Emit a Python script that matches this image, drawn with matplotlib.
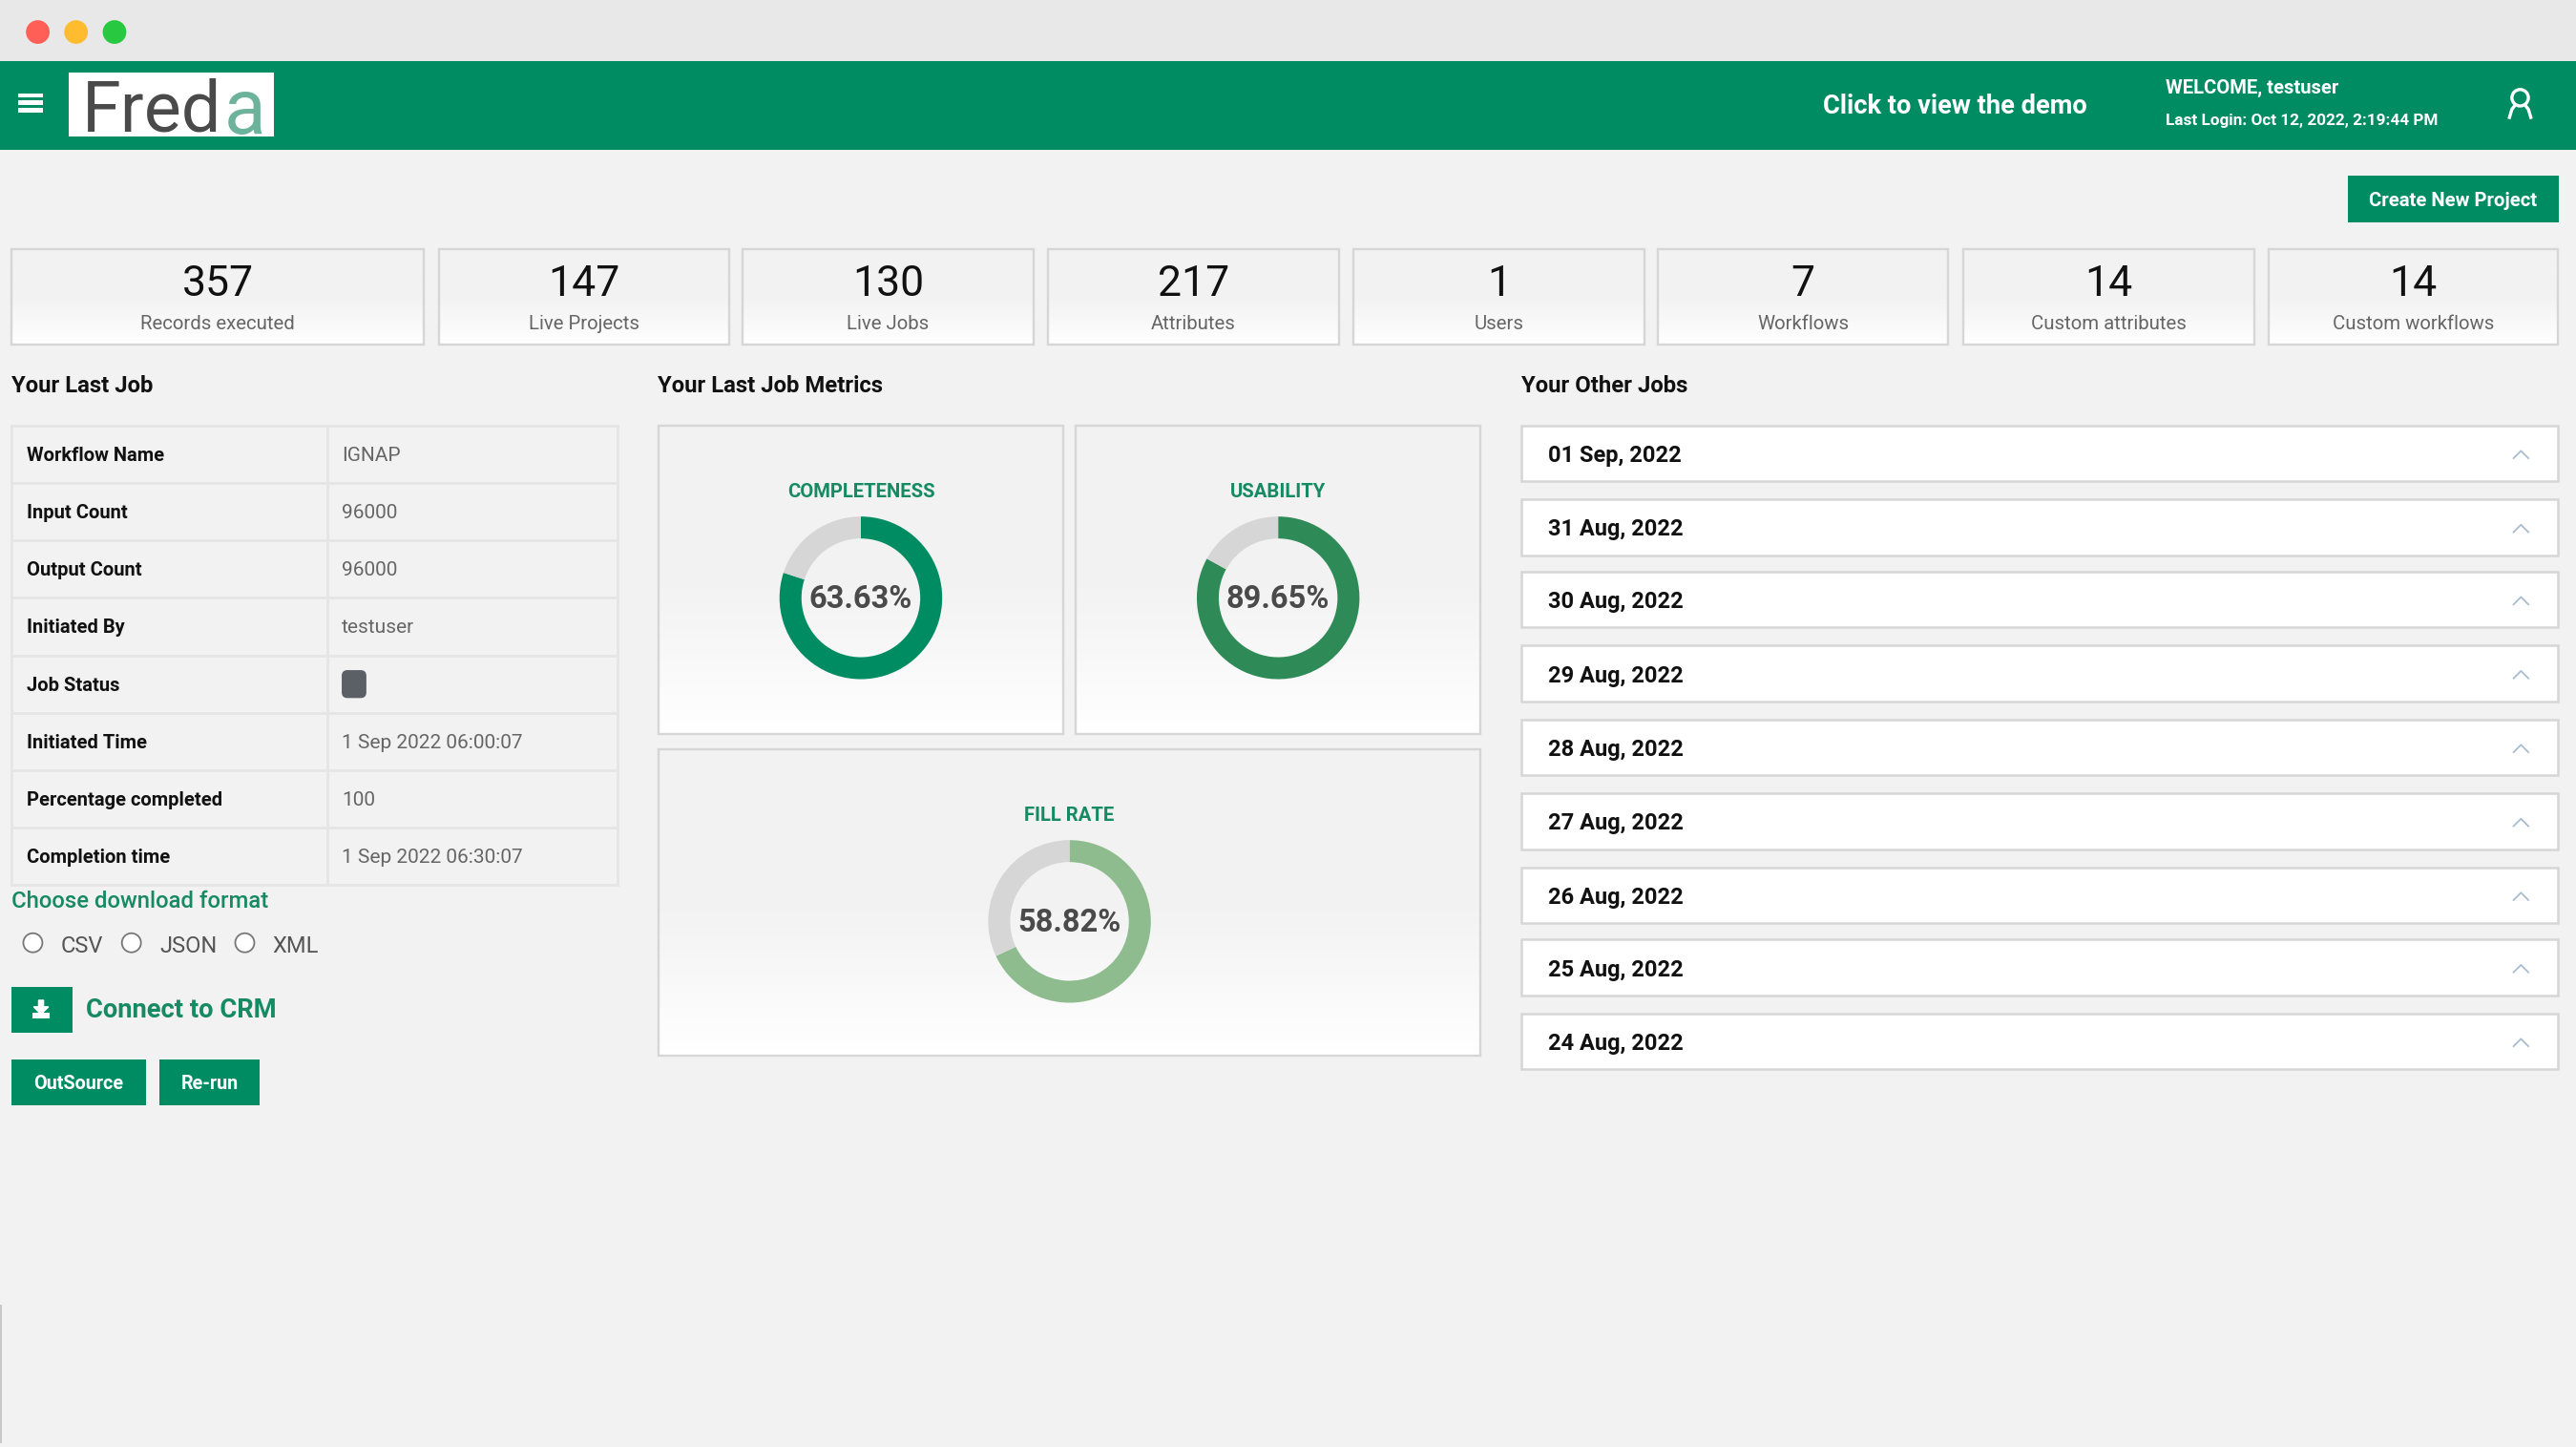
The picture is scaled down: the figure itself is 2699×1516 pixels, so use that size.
#!/usr/bin/env python3
"""Dashboard screenshot rebuilt with matplotlib. Layout units are px of a 1568x881 view."""

import matplotlib
matplotlib.use('Agg')
import matplotlib.pyplot as plt
import numpy as np
from matplotlib.colors import LinearSegmentedColormap
from matplotlib.patches import Circle, FancyBboxPatch, Rectangle

plt.rcParams['font.family'] = ['Roboto', 'DejaVu Sans']

# Data
STAT_VALUES = ['357', '147', '130', '217', '1', '7', '14', '14']
STAT_LABELS = ['Records executed', 'Live Projects', 'Live Jobs', 'Attributes', 'Users',
               'Workflows', 'Custom attributes', 'Custom workflows']
JOB_FIELDS = ['Workflow Name', 'Input Count', 'Output Count', 'Initiated By', 'Job Status',
              'Initiated Time', 'Percentage completed', 'Completion time']
JOB_VALUES = ['IGNAP', '96000', '96000', 'testuser', '', '1 Sep 2022 06:00:07', '100',
              '1 Sep 2022 06:30:07']
FORMATS = ['CSV', 'JSON', 'XML']
METRIC_NAMES = ['COMPLETENESS', 'USABILITY', 'FILL RATE']
METRIC_LABELS = ['63.63%', '89.65%', '58.82%']
# the rings do not follow their labels in the screenshot, so these are read off the arcs
METRIC_ARC_SHARE = [80, 83, 68]
JOB_DATES = ['01 Sep, 2022', '31 Aug, 2022', '30 Aug, 2022', '29 Aug, 2022', '28 Aug, 2022',
             '27 Aug, 2022', '26 Aug, 2022', '25 Aug, 2022', '24 Aug, 2022']

# Styles
W, H = 1568, 881
GREEN = '#008c62'
TEXT_GREEN = '#168a63'
BODY = '#f2f2f2'
BORDER = '#d6d6d6'
GREY_TEXT = '#666666'
STAT_X = [(7, 258), (267, 444), (452, 629), (638, 815), (824, 1001), (1009, 1186),
          (1195, 1372), (1381, 1557)]
ROW_TOPS = [259, 294, 329, 364, 399, 434, 469, 504, 539]
JOB_TOPS = [259, 304, 348, 393, 438, 483, 528, 572, 617]
RING_COLORS = ['#008c62', '#2e8b57', '#8fbc8f']

GRADIENT = LinearSegmentedColormap.from_list('card', [BODY, BODY, '#ffffff'])

fig = plt.figure(figsize=(26.99, 15.16), dpi=100, facecolor=BODY)
ax = fig.add_axes([0, 0, 1, 1])
ax.set_xlim(0, W)
ax.set_ylim(H, 0)
ax.axis('off')


def box(x0, y0, x1, y1, fc, ec='none', lw=0, z=2):
    ax.add_patch(Rectangle((x0, y0), x1 - x0, y1 - y0, fc=fc, ec=ec, lw=lw, zorder=z))


def gradient_card(x0, y0, x1, y1):
    grad = np.linspace(0, 1, 64).reshape(-1, 1)
    ax.imshow(grad, extent=(x0, x1, y1, y0), cmap=GRADIENT, aspect='auto', zorder=1)
    box(x0, y0, x1, y1, 'none', BORDER, 1.7, z=2)


def label(x, y, s, size, color='#111111', weight='normal', ha='left'):
    ax.text(x, y, s, fontsize=size, color=color, fontweight=weight, ha=ha, va='center_baseline',
            zorder=5)


def button(x0, y0, x1, y1, s, size=14):
    box(x0, y0, x1, y1, GREEN)
    label((x0 + x1) / 2, (y0 + y1) / 2, s, size, 'white', 'bold', 'center')


# Window title bar and header
box(0, 0, W, 37, '#e8e8e8')
for cx, col in zip([23, 46.3, 69.7], ['#ff5f57', '#febc2e', '#28c840']):
    ax.add_patch(Circle((cx, 19.5), 7.2, fc=col, ec='none', zorder=3))
box(0, 37, W, 91.5, GREEN)
for y in [58, 62.5, 67]:
    box(11, y - 1.3, 26, y + 1.3, 'white', z=3)
box(42, 44, 167, 83, 'white', z=3)
label(50, 63.5, 'Fred', 53, '#4a4a4a')
label(136.5, 63.5, 'a', 58, '#6db39c')
label(1190, 63, 'Click to view the demo', 19.6, 'white', 'bold', 'center')
label(1318, 52.5, 'WELCOME, testuser', 14.6, 'white', 'bold')
label(1318, 72.5, 'Last Login: Oct 12, 2022, 2:19:44 PM', 12.3, 'white', 'bold')
# user icon
ax.add_patch(Circle((1534, 59.5), 5, fc='none', ec='white', lw=2.4, zorder=4))
ax.plot([1527.5, 1529, 1531], [71.5, 66.5, 64], color='white', lw=2.4, zorder=4)
ax.plot([1540.5, 1539, 1537], [71.5, 66.5, 64], color='white', lw=2.4, zorder=4)

button(1429, 107, 1557.5, 135.5, 'Create New Project', 14.6)

# Stat cards
for (x0, x1), val, lab in zip(STAT_X, STAT_VALUES, STAT_LABELS):
    gradient_card(x0, 151.5, x1, 209.5)
    cx = (x0 + x1) / 2
    label(cx, 170.5, val, 32, '#111111', 'normal', 'center')
    label(cx, 196, lab, 14.7, GREY_TEXT, 'normal', 'center')

# Section headings
label(7, 233.7, 'Your Last Job', 17.2, '#111111', 'bold')
label(400.5, 233.7, 'Your Last Job Metrics', 17.2, '#111111', 'bold')
label(926, 233.7, 'Your Other Jobs', 17.2, '#111111', 'bold')

# Last job table
for y in ROW_TOPS:
    ax.plot([7, 376], [y, y], color='#e5e5e5', lw=2, zorder=2)
for x in [7, 199, 376]:
    ax.plot([x, x], [ROW_TOPS[0], ROW_TOPS[-1]], color='#e5e5e5', lw=2, zorder=2)
for y, field, val in zip(ROW_TOPS, JOB_FIELDS, JOB_VALUES):
    label(16, y + 17.2, field, 14.5, '#111111', 'bold')
    label(208, y + 17.2, val, 15, GREY_TEXT)
ax.add_patch(FancyBboxPatch((210, 410), 11, 13, boxstyle='round,pad=2,rounding_size=3.5',
                            fc='#5b6067', ec='none', zorder=3))

# Download options
label(7, 547.5, 'Choose download format', 17.2, TEXT_GREEN, 'medium')
for cx, tx, fmt in zip([20, 80, 149], [37, 97, 166], FORMATS):
    ax.add_patch(Circle((cx, 574), 5.8, fc='white', ec='#777777', lw=1.3, zorder=3))
    label(tx, 575, fmt, 17, '#555555')
box(7, 601, 44, 629, GREEN)
# download icon
ax.fill([23.5, 26.5, 26.5, 29.5, 25, 20.5, 23.5], [609, 609, 613, 613, 617.5, 613, 613], color='white', zorder=4)
box(19.5, 616.5, 30.5, 620, 'white', z=4)
label(52, 613.5, 'Connect to CRM', 19.7, TEXT_GREEN, 'bold')
button(7, 645, 89, 673, 'OutSource', 14.2)
button(97, 645, 158, 673, 'Re-run', 14.2)

# Metric cards with ring charts
cards = [(401, 259, 647, 447), (655, 259, 901, 447), (401, 456, 901, 643)]
for i, (x0, y0, x1, y1) in enumerate(cards):
    gradient_card(x0, y0, x1, y1)
    cx = (x0 + x1) / 2
    cy = y0 + 105
    label(cx, y0 + 39.3, METRIC_NAMES[i], 14.6, TEXT_GREEN, 'bold', 'center')
    size = 100
    ring = ax.inset_axes([(cx - size / 2) / W, 1 - (cy + size / 2) / H, size / W, size / H])
    share = METRIC_ARC_SHARE[i]
    ring.pie([share, 100 - share], colors=[RING_COLORS[i], '#d6d6d6'], startangle=90,
             counterclock=False, radius=1.0, wedgeprops={'width': 0.27, 'linewidth': 0})
    ring.set_xlim(-1.01, 1.01)
    ring.set_ylim(-1.01, 1.01)
    ring.set_aspect('auto')
    ring.set_zorder(4)
    label(cx, cy - 1, METRIC_LABELS[i], 23.5, '#4a4a4a', 'bold', 'center')

# Other jobs accordion
for y, date in zip(JOB_TOPS, JOB_DATES):
    box(926, y, 1557, y + 34, 'white', '#d6d6d6', 1.8)
    label(942.5, y + 17, date, 17, '#111111', 'bold')
    ax.plot([1530, 1534.5, 1539], [y + 20, y + 15.5, y + 20], color='#a9bcd0', lw=1.3, zorder=4)

# Left window edge at the bottom
ax.plot([0.3, 0.3], [795, 878], color='#c8c8c8', lw=1.5, zorder=3)

ax.set_xlim(0, W)
ax.set_ylim(H, 0)
fig.savefig('out.png', dpi=100, facecolor=BODY)
